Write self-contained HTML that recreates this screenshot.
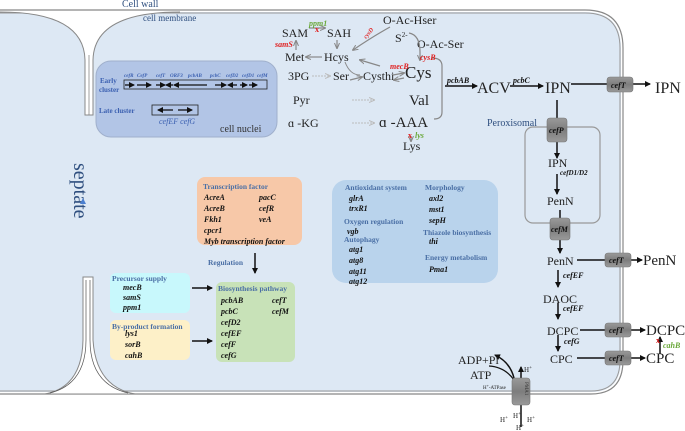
<!DOCTYPE html>
<html><head><meta charset="utf-8"><style>
html,body{margin:0;padding:0;background:#fff;}
svg{display:block;}
text{font-family:"Liberation Serif",serif;}
.i{font-style:italic;font-weight:bold;}
.t{fill:#4a6fa5;font-weight:bold;font-size:7.5px;}
.g{font-size:8px;font-style:italic;font-weight:bold;fill:#111;}
.m{font-size:12px;fill:#222;}
</style></head><body>
<svg width="685" height="431" viewBox="0 0 685 431" xmlns="http://www.w3.org/2000/svg">
<defs>
<marker id="ab" markerWidth="6" markerHeight="6" refX="5" refY="3" orient="auto" markerUnits="userSpaceOnUse"><path d="M0,0 L6,3 L0,6 z" fill="#111"/></marker>
<marker id="ag" markerWidth="6" markerHeight="6" refX="5" refY="3" orient="auto" markerUnits="userSpaceOnUse"><path d="M0,0.5 L6,3 L0,5.5" fill="none" stroke="#888" stroke-width="1"/></marker>
<marker id="al" markerWidth="6" markerHeight="6" refX="5" refY="3" orient="auto" markerUnits="userSpaceOnUse"><path d="M0,0.5 L6,3 L0,5.5" fill="none" stroke="#bbb" stroke-width="1"/></marker>
<linearGradient id="cyl" x1="0" y1="0" x2="0" y2="1"><stop offset="0" stop-color="#9a9a9a"/><stop offset="0.5" stop-color="#7d7d7d"/><stop offset="1" stop-color="#9a9a9a"/></linearGradient>
</defs>
<path d="M0,12 L585,12 Q621,12 621,48 L621,360 Q621,392 591,392 L0,392 Z" fill="#dde8f4"/>
<path d="M0,10 L585,10 Q623,10 623,48 L623,360 Q623,394 591,394 L0,394" fill="none" stroke="#888" stroke-width="1.2"/>
<path d="M0,13 L585,13 Q620,13 620,48 L620,360 Q620,391 591,391 L0,391" fill="none" stroke="#999" stroke-width="1"/>
<rect x="0" y="395" width="685" height="36" fill="#fff"/>
<path d="M0,12 Q84,12 85,60 L85,115 L93,115 L93,60 Q94,12 180,12" fill="#fff" stroke="#888" stroke-width="1"/>
<line x1="89" y1="55" x2="89" y2="115" stroke="#888" stroke-width="0.8"/>
<path d="M83,277 L93,277 L93,340 Q96,387 135,394 L45,394 Q82,387 83,340 Z" fill="#fff" stroke="#888" stroke-width="1"/>
<path d="M86,280 L86,340 Q86,384 50,393 M90,280 L90,340 Q90,384 128,393" fill="none" stroke="#555" stroke-width="0.7"/>
<text x="122" y="7" font-size="10" fill="#2f4f7f">Cell wall</text>
<text x="143" y="21" font-size="9" fill="#2f4f7f">cell membrane</text>
<text transform="translate(74,163) rotate(90)" font-size="20" fill="#2f4f7f">septate</text>
<path d="M80,204 L83,198 L86,204 z" fill="#4a7fd0"/>
<rect x="96" y="61" width="181" height="76" rx="15" fill="#b2c5e6" stroke="#a0b0cc"/>
<g font-size="5" font-style="italic" fill="#3a5fb0" font-weight="bold">
<text x="124" y="77">cefR</text><text x="137" y="77">CefP</text><text x="156" y="77">cefT</text><text x="170" y="77">ORF3</text><text x="188" y="77">pcbAB</text><text x="210" y="77">pcbC</text><text x="226" y="77">cefD2</text><text x="242" y="77">cefD1</text><text x="257" y="77">cefM</text>
</g>
<text x="100" y="83" font-size="7" fill="#3a5fb0" font-weight="bold">Early</text>
<text x="99" y="92" font-size="7" fill="#3a5fb0" font-weight="bold">cluster</text>
<rect x="124" y="80" width="143" height="9" fill="none" stroke="#222" stroke-width="0.8"/>
<g stroke="#111" stroke-width="1.3" marker-end="url(#ab)">
<line x1="125" y1="85" x2="134" y2="85"/><line x1="137" y1="85" x2="151" y2="85"/><line x1="156" y1="85" x2="165" y2="85"/>
<line x1="173" y1="85" x2="166" y2="85"/><line x1="207" y1="85" x2="174" y2="85"/><line x1="215" y1="85" x2="226" y2="85"/>
<line x1="237" y1="85" x2="228" y2="85"/><line x1="240" y1="85" x2="247" y2="85"/><line x1="249" y1="85" x2="257" y2="85"/>
</g>
<text x="99" y="113" font-size="7" fill="#3a5fb0" font-weight="bold">Late cluster</text>
<rect x="152" y="105" width="46" height="10" fill="none" stroke="#222" stroke-width="0.8"/>
<g stroke="#111" stroke-width="1.3" marker-end="url(#ab)"><line x1="173" y1="110" x2="158" y2="110"/><line x1="178" y1="110" x2="192" y2="110"/></g>
<text x="159" y="124" font-size="8" font-style="italic" fill="#3a5fb0">cefEF cefG</text>
<text x="220" y="132" font-size="10" fill="#333">cell nuclei</text>
<g class="m">
<text x="282" y="37">SAM</text><text x="327" y="37">SAH</text>
<text x="285" y="61">Met</text><text x="324" y="61">Hcys</text>
<text x="288" y="80">3PG</text><text x="333" y="80">Ser</text><text x="363" y="80">Cysthi</text>
<text x="293" y="104">Pyr</text><text x="288" y="127">ɑ -KG</text>
<text x="383" y="24">O-Ac-Hser</text><text x="395" y="42">S<tspan font-size="7" dy="-5">2-</tspan></text><text x="417" y="48">O-Ac-Ser</text>
<text x="403" y="150">Lys</text>
</g>
<text x="405" y="78" font-size="17" fill="#222">Cys</text>
<text x="409" y="105" font-size="15" fill="#222">Val</text>
<text x="379" y="127" font-size="15" fill="#222">ɑ -AAA</text>
<g stroke="#888" stroke-width="1.2" fill="none" marker-end="url(#ag)">
<line x1="309" y1="28" x2="325" y2="28"/><line x1="296" y1="50" x2="296" y2="41"/><line x1="322" y1="57" x2="306" y2="57"/>
<line x1="337" y1="40" x2="337" y2="48"/><line x1="350" y1="80" x2="362" y2="77"/>
<path d="M380,66 L360,60"/><path d="M390,27 Q372,37 353,50"/>
<path d="M409,33 Q420,35 420,52 L420,60"/>
<line x1="393" y1="75" x2="404" y2="73"/><line x1="404" y1="78" x2="394" y2="80"/>
<line x1="411" y1="136" x2="411" y2="141"/>
</g>
<path d="M345,62 Q350,75 360,75" fill="none" stroke="#888" stroke-width="1"/>
<g stroke="#bbb" stroke-width="1" stroke-dasharray="2,1" marker-end="url(#al)"><line x1="312" y1="76" x2="330" y2="76"/><line x1="352" y1="100" x2="374" y2="100"/><line x1="352" y1="123" x2="374" y2="123"/></g>
<path d="M432,58 Q442,58 442,66 L442,112 Q442,119 434,119" fill="none" stroke="#888" stroke-width="1.2"/>
<g class="g"><text x="309" y="26" fill="#6aa83a">ppm1</text><text x="275" y="47" fill="#e02020">samS</text><text x="420" y="60" fill="#e02020">cysB</text><text x="390" y="69" fill="#e02020">mecB</text><text x="415" y="138" fill="#6aa83a">lys</text></g>
<text transform="translate(366,39) rotate(-50)" font-size="6" class="i" fill="#e02020">cysD</text>
<text x="315" y="32" font-size="8" fill="#e02020" font-weight="bold">x</text>
<text x="408" y="138" font-size="8" fill="#e02020" font-weight="bold">x</text>
<g stroke="#111" stroke-width="1.5" marker-end="url(#ab)" fill="none">
<line x1="445" y1="86" x2="477" y2="86"/><line x1="510" y1="86" x2="543" y2="86"/><line x1="633" y1="84" x2="650" y2="84"/>
<line x1="557" y1="142" x2="557" y2="158"/><line x1="557" y1="174" x2="557" y2="194"/>
<line x1="560" y1="240" x2="560" y2="253"/><line x1="558" y1="270" x2="558" y2="287"/><line x1="558" y1="303" x2="558" y2="319"/><line x1="558" y1="335" x2="558" y2="351"/>
<line x1="630" y1="260" x2="642" y2="260"/><line x1="630" y1="330" x2="645" y2="330"/><line x1="630" y1="358" x2="645" y2="358"/>
<line x1="660" y1="354" x2="660" y2="337"/>
<path d="M514,378 Q510,362 495,355"/><line x1="521" y1="427" x2="521" y2="367"/>
</g>
<path d="M489,366 Q505,367 514,380" fill="none" stroke="#111" stroke-width="1.2"/>
<g stroke="#111" stroke-width="1.5"><line x1="571" y1="84" x2="608" y2="84"/><line x1="557" y1="100" x2="557" y2="118"/><line x1="560" y1="210" x2="560" y2="218"/><line x1="577" y1="260" x2="606" y2="260"/><line x1="580" y1="330" x2="606" y2="330"/><line x1="577" y1="358" x2="606" y2="358"/></g>
<g class="g"><text x="447" y="83">pcbAB</text><text x="513" y="83">pcbC</text><text x="560" y="175" font-size="7">cefD1/D2</text><text x="563" y="278">cefEF</text><text x="563" y="311">cefEF</text><text x="564" y="344">cefG</text><text x="663" y="348" fill="#6aa83a">cahB</text></g>
<text x="656" y="343" font-size="8" fill="#e02020" font-weight="bold">x</text>
<text x="477" y="93" font-size="16" fill="#222">ACV</text>
<text x="545" y="93" font-size="16" fill="#222">IPN</text>
<text x="655" y="93" font-size="16" fill="#222">IPN</text>
<text x="487" y="126" font-size="10" fill="#2f4f7f">Peroxisomal</text>
<rect x="525" y="127" width="75" height="96" rx="8" fill="none" stroke="#999" stroke-width="1.2"/>
<g class="m"><text x="548" y="167">IPN</text><text x="547" y="205">PenN</text><text x="547" y="265">PenN</text><text x="543" y="303">DAOC</text><text x="547" y="335">DCPC</text><text x="550" y="363">CPC</text><text x="458" y="364">ADP+Pi</text><text x="470" y="379">ATP</text></g>
<g font-size="15" fill="#222"><text x="643" y="265">PenN</text><text x="646" y="335">DCPC</text><text x="646" y="363">CPC</text></g>
<g fill="url(#cyl)" stroke="#777" stroke-width="0.6">
<rect x="607" y="77" width="26" height="15" rx="3"/><rect x="547" y="118" width="20" height="24" rx="3"/><rect x="550" y="218" width="20" height="22" rx="3"/>
<rect x="605" y="253" width="26" height="14" rx="3"/><rect x="605" y="323" width="26" height="14" rx="3"/><rect x="605" y="351" width="26" height="14" rx="3"/>
<rect x="512" y="378" width="18" height="27" rx="3"/>
</g>
<g class="g" font-size="7"><text x="611" y="88">cefT</text><text x="549" y="133">cefP</text><text x="551" y="232">cefM</text><text x="609" y="263">cefT</text><text x="609" y="333">cefT</text><text x="609" y="361">cefT</text></g>
<text transform="translate(525,382) rotate(90)" font-size="5" fill="#333">PMA1</text>
<text x="483" y="389" font-size="5" fill="#222">H<tspan dy="-2" font-size="4">+</tspan><tspan dy="2">-ATPase</tspan></text>
<g font-size="7" fill="#222"><text x="524" y="372">H<tspan dy="-3" font-size="5">+</tspan></text><text x="500" y="422">H<tspan dy="-3" font-size="5">+</tspan></text><text x="513" y="418">H<tspan dy="-3" font-size="5">+</tspan></text><text x="516" y="430">H<tspan dy="-3" font-size="5">+</tspan></text><text x="527" y="422">H<tspan dy="-3" font-size="5">+</tspan></text></g>
<rect x="197" y="177" width="105" height="68" rx="8" fill="#f7c8a8"/>
<text x="203" y="189" class="t" font-size="8">Transcription factor</text>
<g class="g"><text x="204" y="200">AcreA</text><text x="204" y="211">AcreB</text><text x="204" y="222">Fkh1</text><text x="204" y="233">cpcr1</text><text x="204" y="244">Myb transcription factor</text><text x="259" y="200">pacC</text><text x="259" y="211">cefR</text><text x="259" y="222">veA</text></g>
<text x="208" y="265" class="t" font-size="8" fill="#4a78c8">Regulation</text>
<line x1="255" y1="253" x2="255" y2="273" stroke="#111" stroke-width="1.5" marker-end="url(#ab)"/>
<rect x="216" y="282" width="79" height="80" rx="6" fill="#c8e2b8"/>
<text x="218" y="291" class="t">Biosynthesis pathway</text>
<g class="g"><text x="221" y="303">pcbAB</text><text x="221" y="314">pcbC</text><text x="221" y="325">cefD2</text><text x="221" y="336">cefEF</text><text x="221" y="347">cefF</text><text x="221" y="358">cefG</text><text x="272" y="303">cefT</text><text x="272" y="314">cefM</text></g>
<rect x="110" y="273" width="80" height="40" rx="6" fill="#c8f8fc"/>
<text x="112" y="281" class="t">Precursor supply</text>
<g class="g"><text x="123" y="290">mecB</text><text x="123" y="300">samS</text><text x="123" y="310">ppm1</text></g>
<rect x="110" y="320" width="80" height="40" rx="6" fill="#fdf0c8"/>
<text x="112" y="329" class="t">By-product formation</text>
<g class="g"><text x="125" y="336">lys1</text><text x="125" y="347">sorB</text><text x="125" y="358">cahB</text></g>
<g stroke="#111" stroke-width="1.5" marker-end="url(#ab)"><line x1="192" y1="288" x2="212" y2="288"/><line x1="192" y1="341" x2="212" y2="341"/></g>
<rect x="332" y="180" width="166" height="103" rx="14" fill="#b9d3ec"/>
<g class="t" font-size="7"><text x="345" y="190">Antioxidant system</text><text x="344" y="224">Oxygen regulation</text><text x="344" y="242">Autophagy</text><text x="425" y="190">Morphology</text><text x="423" y="235">Thiazole biosynthesis</text><text x="425" y="260">Energy metabolism</text></g>
<g class="g"><text x="349" y="201">glrA</text><text x="349" y="211">trxR1</text><text x="347" y="234">vgb</text><text x="349" y="252">atg1</text><text x="349" y="263">atg8</text><text x="349" y="274">atg11</text><text x="349" y="284">atg12</text><text x="429" y="201">axl2</text><text x="429" y="212">mst1</text><text x="429" y="223">sepH</text><text x="429" y="244">thi</text><text x="429" y="272">Pma1</text></g>
</svg>
</body></html>
